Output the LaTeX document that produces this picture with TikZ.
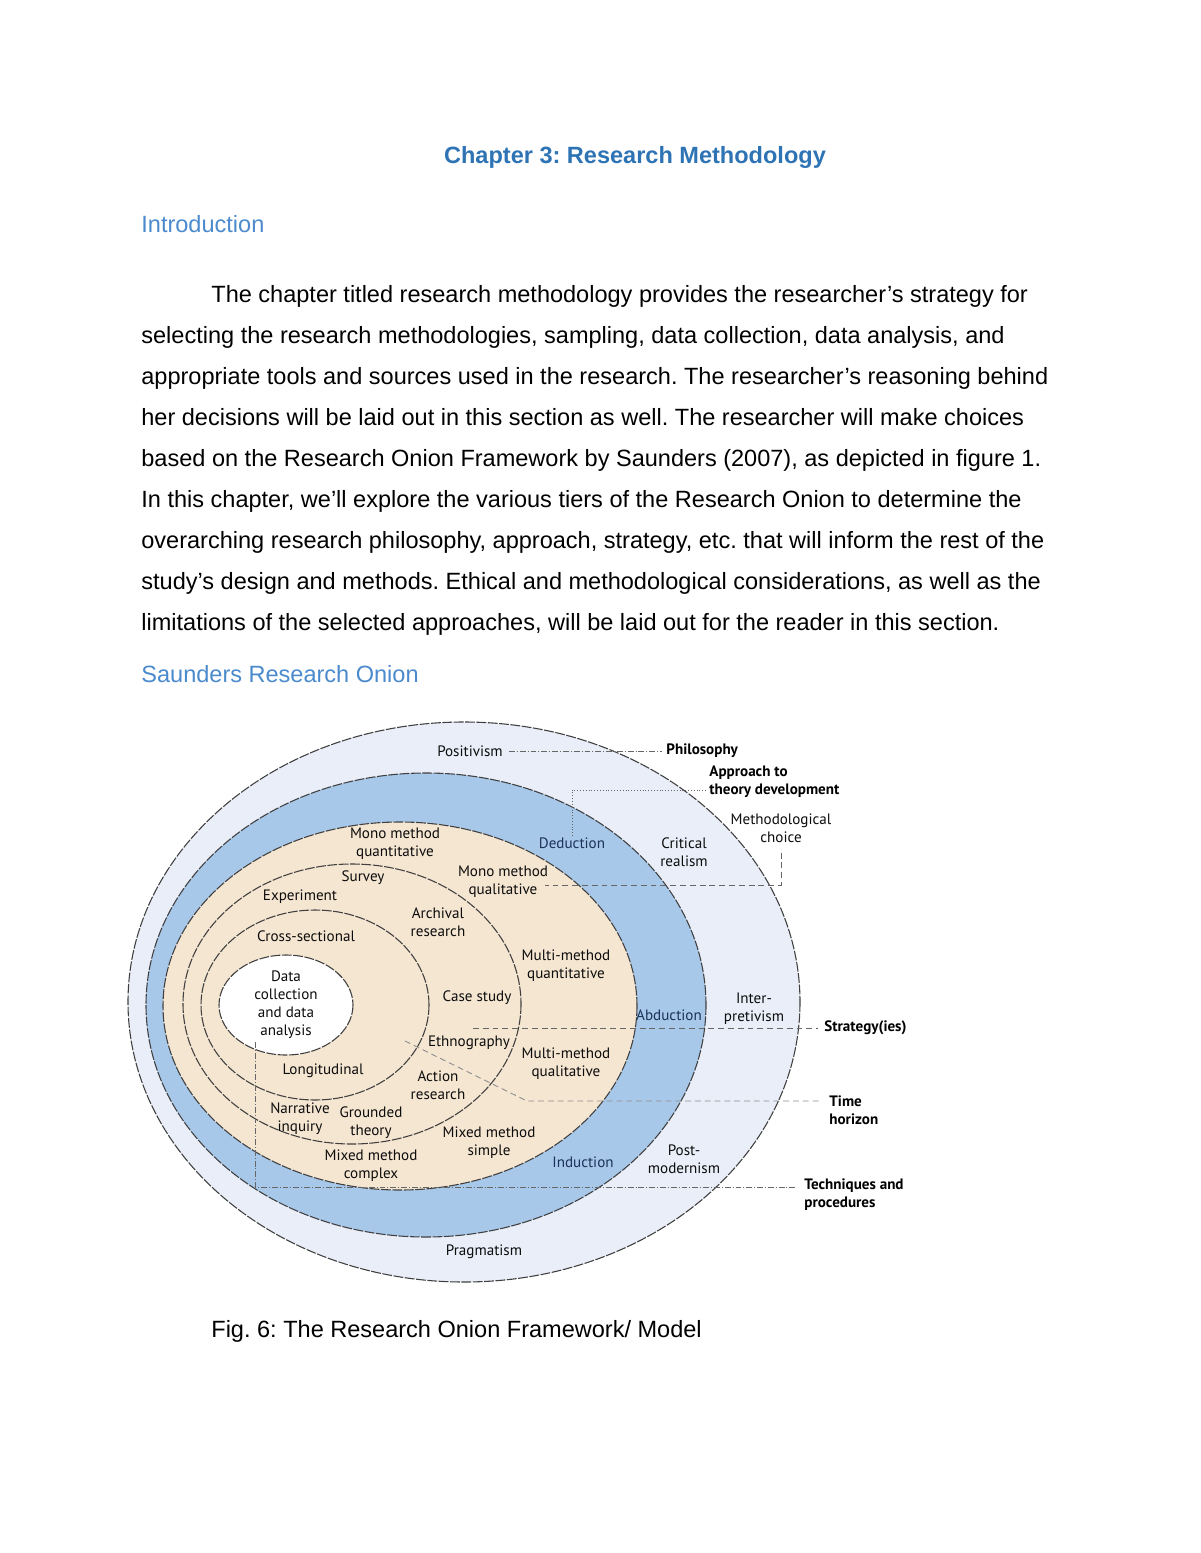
\documentclass[tikz,border=0pt]{standalone}
\usepackage{fontspec}
\setmainfont{Liberation Sans}
\newfontfamily\onionfont{PT Sans}
\usetikzlibrary{positioning}
\frenchspacing
\definecolor{hdblue}{RGB}{46,116,181}
\definecolor{subblue}{RGB}{74,138,205}
\definecolor{philfill}{RGB}{233,238,248}
\definecolor{apprfill}{RGB}{168,200,234}
\definecolor{methfill}{RGB}{245,230,210}
\definecolor{navytxt}{RGB}{28,50,88}
\tikzset{
  bodyline/.style={anchor=base west, inner sep=0pt, font=\fontsize{12}{14}\selectfont},
  ring/.style={draw=black!75, line width=0.55pt, dash pattern=on 5pt off 0.8pt},
  onlabel/.style={align=center, inner sep=0pt, text=black!95,
    font=\onionfont\fontsize{7.7}{9.2}\selectfont},
  layerlabel/.style={onlabel, align=left, anchor=west, text=black,
    font=\onionfont\bfseries\fontsize{7.7}{9.2}\selectfont},
  leader/.style={draw=black!60, line width=0.45pt}
}

\begin{document}
\begin{tikzpicture}[x=0.51pt,y=-0.51pt]
  \useasboundingbox[fill=white] (0,0) rectangle (1200,1553);

  % page text
  \node[anchor=base, inner sep=0pt, text=hdblue, font=\bfseries\fontsize{12}{14}\selectfont]
    (title) at (635,164) {Chapter 3: Research Methodology};
  \node[bodyline, text=subblue] (intro) at (141,233) {Introduction};
  \node[bodyline] (p1) at (211,302) {The chapter titled research methodology provides the researcher's strategy for};
  \node[bodyline] (p2) at (141,343) {selecting the research methodologies, sampling, data collection, data analysis, and};
  \node[bodyline] (p3) at (141,384) {appropriate tools and sources used in the research. The researcher's reasoning behind};
  \node[bodyline] (p4) at (141,425) {her decisions will be laid out in this section as well. The researcher will make choices};
  \node[bodyline] (p5) at (141,466) {based on the Research Onion Framework by Saunders (2007), as depicted in figure 1.};
  \node[bodyline] (p6) at (141,507) {In this chapter, we'll explore the various tiers of the Research Onion to determine the};
  \node[bodyline] (p7) at (141,548) {overarching research philosophy, approach, strategy, etc. that will inform the rest of the};
  \node[bodyline] (p8) at (141,589) {study's design and methods. Ethical and methodological considerations, as well as the};
  \node[bodyline] (p9) at (141,630) {limitations of the selected approaches, will be laid out for the reader in this section.};
  \node[bodyline, text=subblue] (onionhd) at (141,682) {Saunders Research Onion};
  \node[bodyline] (caption) at (211,1337) {Fig. 6: The Research Onion Framework/ Model};

  % onion layers
  \path[ring, fill=philfill] (464,1002) ellipse [x radius=336, y radius=280];
  \path[ring, fill=apprfill] (426,1005) ellipse [x radius=280, y radius=232];
  \path[ring, fill=methfill] (400,1006) ellipse [x radius=237, y radius=184];
  \path[ring] (352,1004) ellipse [x radius=169, y radius=140];
  \path[ring] (315,1005) ellipse [x radius=114, y radius=95];
  \path[ring, fill=white] (286,1005) ellipse [x radius=67, y radius=50];

  % labels in the layers
  \node[onlabel] (positivism) at (470,751) {Positivism};
  \node[onlabel] (critreal) at (684,852) {Critical\\realism};
  \node[onlabel] (interpret) at (754,1009) {Inter-\\pretivism};
  \node[onlabel] (postmod) at (684,1159) {Post-\\modernism};
  \node[onlabel] (pragmatism) at (484,1252) {Pragmatism};
  \node[onlabel, text=navytxt] (deduction) at (572,843) {Deduction};
  \node[onlabel, text=navytxt] (abduction) at (669,1015) {Abduction};
  \node[onlabel, text=navytxt] (induction) at (583,1162) {Induction};
  \node[onlabel] (monoquan) at (395,844) {Mono method\\quantitative};
  \node[onlabel] (monoqual) at (503,882) {Mono method\\qualitative};
  \node[onlabel] (multiquan) at (566,966) {Multi-method\\quantitative};
  \node[onlabel] (multiqual) at (566,1064) {Multi-method\\qualitative};
  \node[onlabel] (mixsimple) at (489,1143) {Mixed method\\simple};
  \node[onlabel] (mixcomplex) at (371,1166) {Mixed method\\complex};
  \node[onlabel] (survey) at (363,878) {Survey};
  \node[onlabel] (experiment) at (300,897) {Experiment};
  \node[onlabel] (archival) at (438,922) {Archival\\research};
  \node[onlabel] (casestudy) at (477,998) {Case study};
  \node[onlabel] (ethno) at (469,1043) {Ethnography};
  \node[onlabel] (actionres) at (438,1085) {Action\\research};
  \node[onlabel] (grounded) at (371,1123) {Grounded\\theory};
  \node[onlabel] (narrative) at (300,1119) {Narrative\\inquiry};
  \node[onlabel] (crosssec) at (306,936) {Cross-sectional};
  \node[onlabel] (longit) at (323,1071) {Longitudinal};
  \node[onlabel] (datacoll) at (286,1005) {Data\\collection\\and data\\analysis};

  % layer names
  \node[layerlabel] (philosophy) at (666,751) {Philosophy};
  \node[layerlabel] (approach) at (709,782) {Approach to\\theory development};
  \node[onlabel] (methchoice) at (781,828) {Methodological\\choice};
  \node[layerlabel] (strategy) at (824,1028) {Strategy(ies)};
  \node[layerlabel] (timeh) at (829,1110) {Time\\horizon};
  \node[layerlabel] (techniq) at (804,1195) {Techniques and\\procedures};

  % leader lines
  \coordinate (appr0) at (572,836);
  \coordinate (appr1) at (707,790);
  \coordinate (meth0) at (545,885);
  \coordinate (strat0) at (473,1028);
  \coordinate (time0) at (405,1041);
  \coordinate (time1) at (527,1101);
  \coordinate (time2) at (822,1101);
  \coordinate (tech0) at (255,1042);
  \coordinate (tech1) at (797,1187);
  \draw[leader, dash pattern=on 3pt off 1pt on 0.5pt off 1pt, shorten <=3pt, shorten >=2pt]
    (positivism.east) -- (philosophy.west);
  \draw[leader, densely dotted] (appr0) |- (appr1);
  \draw[leader, dash pattern=on 3pt off 2pt, shorten <=5pt] (methchoice.south) |- (meth0);
  \draw[leader, dash pattern=on 3pt off 2pt, shorten >=3pt] (strat0) -- (strategy.west);
  \draw[leader, black!45, dash pattern=on 3pt off 2pt] (time0) -- (time1) -- (time2);
  \draw[leader, dash pattern=on 3pt off 1pt on 0.5pt off 1pt] (tech0) |- (tech1);
\end{tikzpicture}
\end{document}
